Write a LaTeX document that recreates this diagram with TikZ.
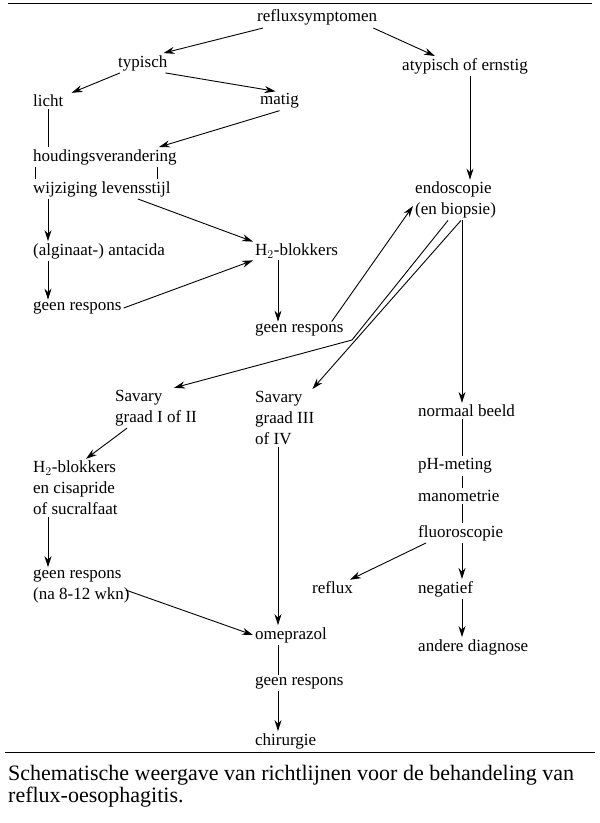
\documentclass[tikz,border=0pt]{standalone}
\usepackage{fontspec}
\setmainfont{Liberation Serif}
\usetikzlibrary{arrows.meta}
\begin{document}
\begin{tikzpicture}[x=1pt,y=-1pt,
  t/.style={anchor=west,inner sep=2pt,font=\fontsize{17}{21}\selectfont,align=left},
  a/.style={-{Stealth[length=11pt,width=7pt]},line width=0.9pt},
  l/.style={line width=0.9pt}]
\useasboundingbox (0,0) rectangle (600,823);
\draw[line width=1pt] (8,3) -- (592,3);
\draw[line width=1pt] (5,752) -- (595,752);
\node[t] (ref) at (255,17) {refluxsymptomen};
\node[t] (typ) at (116,63) {typisch};
\node[t] (aty) at (400,66) {atypisch of ernstig};
\node[t] (lic) at (31,101) {licht};
\node[t] (mat) at (258,101) {matig};
\node[t] (hou) at (31,157) {houdingsverandering};
\node[t] (wij) at (31,189) {wijziging levensstijl};
\node[t] (ant) at (31,251) {(alginaat-) antacida};
\node[t] (h2) at (253,251) {H$_2$-blokkers};
\node[t] (gr1) at (31,308) {geen respons};
\node[t] (end) at (413,200) {endoscopie\\(en biopsie)};
\node[t] (gr2) at (253,330) {geen respons};
\node[t] (sv1) at (113,408) {Savary\\graad I of II};
\node[t] (sv3) at (253,418) {Savary\\graad III\\of IV};
\node[t] (nor) at (416,411) {normaal beeld};
\node[t] (h2c) at (31,488) {H$_2$-blokkers\\en cisapride\\of sucralfaat};
\node[t] (ph) at (416,466) {pH-meting};
\node[t] (man) at (416,496) {manometrie};
\node[t] (flu) at (416,533) {fluoroscopie};
\node[t] (grn) at (31,586) {geen respons\\(na 8-12 wkn)};
\node[t] (rfl) at (310,588) {reflux};
\node[t] (neg) at (416,589) {negatief};
\node[t] (and) at (416,647) {andere diagnose};
\node[t] (ome) at (253,635) {omeprazol};
\node[t] (gr3) at (253,683) {geen respons};
\node[t] (chi) at (253,741) {chirurgie};
\node[anchor=west,inner sep=0pt,font=\fontsize{22}{22}\selectfont,align=left] (cap) at (8,786)
 {Schematische weergave van richtlijnen voor de behandeling van\\reflux-oesophagitis.};
\coordinate (kink) at (352,340);
% connectors
\draw[a] ([xshift=8pt,yshift=-1pt]ref.south west) -- ([xshift=-6pt]typ.north east);
\draw[a] ([xshift=-6pt,yshift=-1pt]ref.south east) -- ([xshift=-30pt]aty.north);
\draw[a] ([xshift=4pt]typ.south west) -- ([xshift=6pt]lic.north east);
\draw[a] ([xshift=-4pt]typ.south east) -- ([xshift=-4pt]mat.north);
\draw[l] ([xshift=17pt]lic.south west) -- ([xshift=17pt]hou.north west);
\draw[a] (mat.south) -- ([xshift=-20pt]hou.north east);
\draw[l] ([xshift=4pt]hou.south west) -- ([xshift=4pt]wij.north west);
\draw[l] ([xshift=126pt]hou.south west) -- ([xshift=126pt]wij.north west);
\draw[a] ([xshift=17pt]wij.south west) -- ([xshift=17pt]ant.north west);
\draw[a] ([xshift=-35pt]wij.south east) -- (h2.north west);
\draw[a] ([xshift=17pt]ant.south west) -- ([xshift=17pt]gr1.north west);
\draw[a] (gr1.east) -- (h2.south west);
\draw[a] ([xshift=25pt]h2.south west) -- ([xshift=25pt]gr2.north west);
\draw[a] ([xshift=-14pt]gr2.north east) -- ([yshift=-6pt]end.west);
\draw[a] ([xshift=70pt]aty.south west) -- ([xshift=57pt]end.north west);
\draw[l] ([xshift=35pt]end.south west) -- (kink);
\draw[a] (kink) -- ([xshift=-25pt]sv1.north east);
\draw[a] ([xshift=48pt]end.south west) -- ([xshift=-4pt]sv3.north east);
\draw[a] ([xshift=49pt]end.south west) -- ([xshift=46pt]nor.north west);
\draw[a] ([xshift=14pt]sv1.south west) -- ([xshift=55pt]h2c.north west);
\draw[a] ([xshift=17pt]h2c.south west) -- ([xshift=17pt]grn.north west);
\draw[a] ([yshift=-4pt,xshift=-6pt]grn.east) -- (ome.west);
\draw[a] ([xshift=25pt]sv3.south west) -- ([xshift=25pt]ome.north west);
\draw[l] ([xshift=46pt]nor.south west) -- ([xshift=46pt]ph.north west);
\draw[l] ([xshift=46pt]ph.south west) -- ([xshift=46pt]man.north west);
\draw[l] ([xshift=46pt]man.south west) -- ([xshift=46pt]flu.north west);
\draw[a] ([xshift=10pt]flu.south west) -- ([xshift=-5pt]rfl.north east);
\draw[a] ([xshift=46pt]flu.south west) -- ([xshift=46pt]neg.north west);
\draw[a] ([xshift=46pt]neg.south west) -- ([xshift=46pt]and.north west);
\draw[l] ([xshift=25pt]ome.south west) -- ([xshift=25pt]gr3.north west);
\draw[a] ([xshift=25pt]gr3.south west) -- ([xshift=25pt]chi.north west);
\end{tikzpicture}
\end{document}
